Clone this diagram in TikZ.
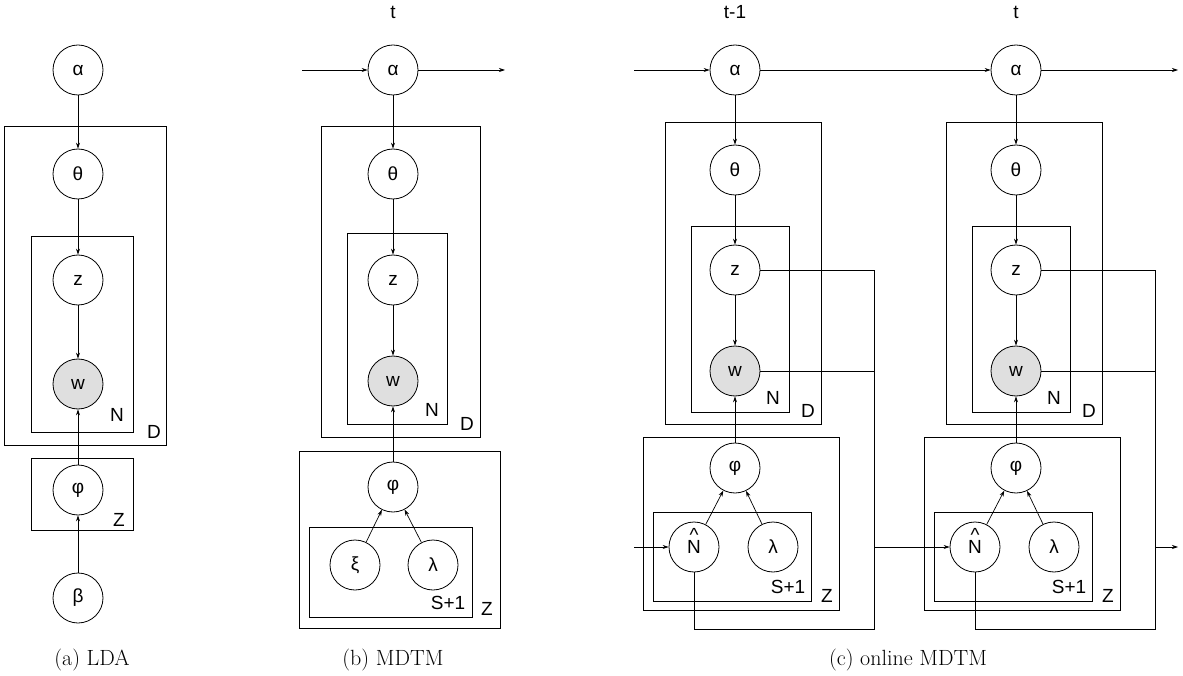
\documentclass[tikz,border=0pt]{standalone}
\usepackage{fontspec}
\setmainfont{Latin Modern Roman}
\newfontfamily\lblfont{Liberation Sans}
\usetikzlibrary{arrows.meta}
\tikzset{
  var/.style={circle,draw,line width=0.8pt,minimum size=50pt,inner sep=0pt,font=\lblfont\fontsize{19}{22}\selectfont},
  obs/.style={var,fill=gray!25},
  plate/.style={draw,line width=0.8pt},
  plab/.style={font=\lblfont\fontsize{19}{22}\selectfont},
  edge/.style={-{Stealth[length=6pt,width=4pt]},line width=0.7pt},
  capt/.style={font=\fontsize{22}{26}\selectfont}
}
\newcommand{\hatN}{\raisebox{-0.3em}{\ooalign{N\cr\hfil\raisebox{0.62em}{\textasciicircum}\hfil}}}
\begin{document}
\begin{tikzpicture}[x=1pt,y=-1pt]
    \useasboundingbox (0,0) rectangle (1183,676);

    % (a) LDA
    \node[var] (aA) at (78,70) {α};
    \node[var] (aT) at (78,174) {θ};
    \node[var] (aZ) at (78,280) {z};
    \node[obs] (aW) at (78,384) {w};
    \node[var] (aP) at (78,490) {φ};
    \node[var] (aB) at (78,598) {β};
    \draw[plate] (4,126) rectangle (166,445);
    \draw[plate] (31,236) rectangle (133,432);
    \draw[plate] (31,458) rectangle (133,530);
    \node[plab] at (117,415) {N};
    \node[plab] at (154,432) {D};
    \node[plab] at (119,520) {Z};
    \draw[edge] (aA) -- (aT);
    \draw[edge] (aT) -- (aZ);
    \draw[edge] (aZ) -- (aW);
    \draw[edge] (aP) -- (aW);
    \draw[edge] (aB) -- (aP);
    \node[capt] (capa) at (92,660) {(a) LDA};

    % (b) MDTM
    \node[plab] (bt) at (393,12) {t};
    \node[var] (bA) at (393,70) {α};
    \node[var] (bT) at (393,174) {θ};
    \node[var] (bZ) at (393,280) {z};
    \node[obs] (bW) at (393,381) {w};
    \node[var] (bP) at (393,487) {φ};
    \node[var] (bX) at (355,565) {ξ};
    \node[var] (bL) at (433,565) {λ};
    \coordinate (bin) at (302,70);
    \coordinate (bout) at (505,70);
    \draw[plate] (321,126) rectangle (480,437);
    \draw[plate] (347,233) rectangle (447,424);
    \draw[plate] (299,451) rectangle (500,628);
    \draw[plate] (309,527) rectangle (472,617);
    \node[plab] at (432,410) {N};
    \node[plab] at (467,424) {D};
    \node[plab] at (487,609) {Z};
    \node[plab] at (448,603) {S+1};
    \draw[edge] (bin) -- (bA);
    \draw[edge] (bA) -- (bout);
    \draw[edge] (bA) -- (bT);
    \draw[edge] (bT) -- (bZ);
    \draw[edge] (bZ) -- (bW);
    \draw[edge] (bP) -- (bW);
    \draw[edge] (bX) -- (bP);
    \draw[edge] (bL) -- (bP);
    \node[capt] (capb) at (393,660) {(b) MDTM};

    % (c) online MDTM
    \foreach \s/\dx/\tl in {l/0/t-1, r/281/t} {
      \begin{scope}[xshift=\dx]
        \node[plab] (t\s) at (735,12) {\tl};
        \node[var] (A\s) at (735,70) {α};
        \node[var] (T\s) at (735,170) {θ};
        \node[var] (Z\s) at (735,270) {z};
        \node[obs] (W\s) at (735,371) {w};
        \node[var] (P\s) at (735,468) {φ};
        \node[var] (H\s) at (694,547) {\hatN};
        \node[var] (L\s) at (773,547) {λ};
        \coordinate (R\s) at (874,371);
        \coordinate (B\s) at (874,629);
        \coordinate (E\s) at (874,547);
        \draw[plate] (665,122) rectangle (821,424);
        \draw[plate] (691,226) rectangle (789,412);
        \draw[plate] (643,437) rectangle (839,610);
        \draw[plate] (653,512) rectangle (811,601);
        \node[plab] at (773,398) {N};
        \node[plab] at (808,411) {D};
        \node[plab] at (827,596) {Z};
        \node[plab] at (788,587) {S+1};
        \draw[edge] (A\s) -- (T\s);
        \draw[edge] (T\s) -- (Z\s);
        \draw[edge] (Z\s) -- (W\s);
        \draw[edge] (P\s) -- (W\s);
        \draw[edge] (H\s) -- (P\s);
        \draw[edge] (L\s) -- (P\s);
        \draw[line width=0.7pt] (Z\s.east) -| (B\s) -| (H\s.south);
        \draw[line width=0.7pt] (W\s.east) -- (R\s);
      \end{scope}
    }
    \coordinate (cin) at (634,70);
    \coordinate (cout) at (1178,70);
    \coordinate (nin) at (634,547);
    \coordinate (nout) at (1178,547);
    \draw[edge] (cin) -- (Al);
    \draw[edge] (Al) -- (Ar);
    \draw[edge] (Ar) -- (cout);
    \draw[edge] (nin) -- (Hl);
    \draw[edge] (El) -- (Hr);
    \draw[edge] (Er) -- (nout);
    \node[capt] (capc) at (908,660) {(c) online MDTM};
\end{tikzpicture}
\end{document}
